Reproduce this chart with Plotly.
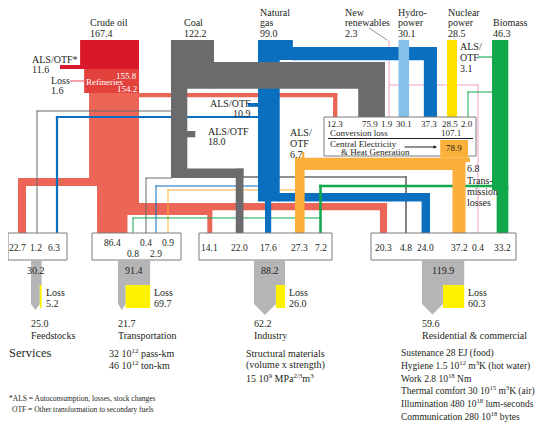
import plotly.graph_objects as go

# ---- data (EJ) ----
source_names = ["Crude oil", "Coal", "Natural<br>gas", "New<br>renewables", "Hydro-<br>power", "Nuclear<br>power", "Biomass"]
source_totals = [167.4, 122.2, 99.0, 2.3, 30.1, 28.5, 46.3]

oil_als = 11.6
refinery_in = 155.8
refinery_loss = 1.6
refinery_out = 154.2

# inputs to central electricity & heat generation: oil, coal, renew, hydro, gas, nuclear, biomass
ceg_inputs = [12.3, 75.9, 1.9, 30.1, 37.3, 28.5, 2.0]
conversion_loss = 107.1
ceg_output = 78.9
als_coal = 18.0
als_gas = 10.9
als_elec = 6.7
als_bio = 3.1
transmission_loss = 6.8

services_in = [22.7, 1.2, 6.3]                 # oil, coal, gas
transport_in = [86.4, 0.8, 0.4, 2.9, 0.9]      # oil, biomass, coal, gas, elec
industry_in = [14.1, 22.0, 17.6, 27.3, 7.2]    # oil, coal, gas, elec, biomass
residential_in = [20.3, 4.8, 24.0, 37.2, 0.4, 33.2]  # oil, coal, gas, elec, renew, biomass

sector_names = ["Feedstocks", "Transportation", "Industry", "Residential & commercial"]
sector_totals = [30.2, 91.4, 88.2, 119.9]
sector_losses = [5.2, 69.7, 26.0, 60.3]
sector_useful = [25.0, 21.7, 62.2, 59.6]

# ---- styles ----
CRUDE = "#d9192b"
REFIN = "#e2413c"
OIL = "#eb6657"
LOSSRED = "#e04a5e"
COAL = "#6b6b6d"
GAS = "#0b6fc0"
HYDRO = "#86c0ea"
NUC = "#ffe100"
BIO = "#10a84b"
PINK = "#f4a0c8"
ELEC = "#fbb03b"
SECT = "#b5b5b7"
LOSSY = "#fff200"
BOXLINE = "#7a7a7a"
TXT = "#231f20"
FONT = "Liberation Serif"

K = 0.352  # px per EJ
PAGE_PAD = 8  # default body margin of the html page


def w(v):
    return max(v * K, 1.0)


shapes = []
notes = []


def rect(x0, y0, x1, y1, color):
    shapes.append(dict(type="rect", xref="x", yref="y", x0=x0, y0=y0, x1=x1, y1=y1,
                       fillcolor=color, line=dict(width=0), layer="above"))


def box(x0, y0, x1, y1):
    shapes.append(dict(type="rect", xref="x", yref="y", x0=x0, y0=y0, x1=x1, y1=y1,
                       fillcolor="white", line=dict(width=1, color=BOXLINE), layer="above"))


def flow(pts, v, color):
    # orthogonal flow along a centre line, width from value
    h = w(v) / 2
    n = len(pts)
    for i in range(n - 1):
        (xa, ya), (xb, yb) = pts[i], pts[i + 1]
        ea = h if i > 0 else 0
        eb = h if i < n - 2 else 0
        if ya == yb:
            x0, x1 = (xa - ea, xb + eb) if xb >= xa else (xb - eb, xa + ea)
            rect(x0, ya - h, x1, ya + h, color)
        else:
            y0, y1 = (ya - ea, yb + eb) if yb >= ya else (yb - eb, ya + ea)
            rect(xa - h, y0, xa + h, y1, color)


def text(x, y, s, size=10, anchor="left", color=TXT):
    notes.append(dict(x=x, y=y, xref="x", yref="y", text=s, showarrow=False,
                      xanchor=anchor, yanchor="middle", borderpad=0,
                      font=dict(family=FONT, size=size, color=color)))


TOP = 40
CEG_TOP = 117
SEC_TOP = 233

# ---- crude oil & refineries ----
oil_r = 139
rect(oil_r - w(source_totals[0]), TOP, oil_r, 69, CRUDE)
flow([(60, 67), (oil_r - w(source_totals[0]) + 1, 67)], oil_als, CRUDE)
rect(oil_r - w(refinery_in), 69, oil_r, 93, REFIN)
flow([(70, 81), (oil_r - w(refinery_in), 81)], refinery_loss, LOSSRED)

oil_ceg_y = 93 + w(ceg_inputs[0]) / 2
ceg_x = [335.2, 371.6, 389, 403.8, 430.4, 452, 468]
flow([(oil_r - 1, oil_ceg_y), (ceg_x[0], oil_ceg_y), (ceg_x[0], CEG_TOP)], ceg_inputs[0], OIL)
rest = refinery_out - ceg_inputs[0]
serv_y = 178
rect(oil_r - w(rest), 93, oil_r, serv_y + w(services_in[0]), OIL)
svc_x = [22, 37, 57]
flow([(oil_r - w(rest) + 1, serv_y + w(services_in[0]) / 2), (svc_x[0], serv_y + w(services_in[0]) / 2),
      (svc_x[0], SEC_TOP)], services_in[0], OIL)
rest2 = rest - services_in[0]
y2 = serv_y + w(services_in[0])
oil_l2 = oil_r - w(rest2)
band_y = 203
band_v = industry_in[0] + residential_in[0]
rect(oil_l2, y2, oil_r, band_y + w(band_v), OIL)
rect(oil_l2, y2, oil_l2 + w(transport_in[0]), SEC_TOP, OIL)
trn_x = [oil_l2 + w(transport_in[0]) / 2, 133, 146, 156, 168]
ind_x = [209.8, 239.6, 268.1, 299.8, 320.5]
res_x = [383.5, 406, 425.8, 459, 478, 502.5]
rect(oil_l2 + w(transport_in[0]), band_y, ind_x[0] + w(industry_in[0]) / 2, band_y + w(band_v), OIL)
rect(ind_x[0] - w(industry_in[0]) / 2, band_y, ind_x[0] + w(industry_in[0]) / 2, SEC_TOP, OIL)
flow([(ind_x[0], band_y + w(residential_in[0]) / 2), (res_x[0], band_y + w(residential_in[0]) / 2),
      (res_x[0], SEC_TOP)], residential_in[0], OIL)

# ---- thin lines ----
coal_l = 171
gas_l = 258
flow([(coal_l + 1, 111), (svc_x[1], 111), (svc_x[1], SEC_TOP)], services_in[1], COAL)
flow([(gas_l + 1, 117), (svc_x[2], 117), (svc_x[2], SEC_TOP)], services_in[2], GAS)
flow([(coal_l + 1, 178), (trn_x[2], 178), (trn_x[2], SEC_TOP)], transport_in[2], COAL)
flow([(gas_l + 1, 186), (trn_x[3], 186), (trn_x[3], SEC_TOP)], transport_in[3], GAS)
flow([(ind_x[3], 190), (trn_x[4], 190), (trn_x[4], SEC_TOP)], transport_in[4], ELEC)
flow([(ind_x[4], 218), (trn_x[1], 218), (trn_x[1], SEC_TOP)], transport_in[1], BIO)
flow([(ind_x[1], 177), (res_x[1], 177), (res_x[1], SEC_TOP)], residential_in[1], COAL)
flow([(ceg_x[2], TOP), (ceg_x[2], CEG_TOP)], ceg_inputs[2], PINK)
flow([(ceg_x[2], 85), (res_x[4], 85), (res_x[4], SEC_TOP)], residential_in[4], PINK)

# ---- natural gas ----
rect(gas_l, TOP, gas_l + w(source_totals[2]), 60, GAS)
gy = 47 + w(ceg_inputs[4]) / 2
flow([(gas_l + w(source_totals[2]) - 1, gy), (ceg_x[4], gy), (ceg_x[4], CEG_TOP)], ceg_inputs[4], GAS)
gas_rest = source_totals[2] - ceg_inputs[4]
res_gy = 193
rect(gas_l, 60, gas_l + w(gas_rest), res_gy + w(residential_in[2]), GAS)
rect(248, 103, gas_l, 103 + w(als_gas), GAS)
flow([(gas_l + w(gas_rest) - 1, res_gy + w(residential_in[2]) / 2), (res_x[2], res_gy + w(residential_in[2]) / 2),
      (res_x[2], SEC_TOP)], residential_in[2], GAS)
rect(ind_x[2] - w(industry_in[2]) / 2, res_gy, ind_x[2] + w(industry_in[2]) / 2, SEC_TOP, GAS)

# ---- coal ----
coal_r = coal_l + w(source_totals[1])
cy = 62 + w(ceg_inputs[1]) / 2
rect(coal_l, TOP, coal_r, 62 + w(ceg_inputs[1]), COAL)
flow([(coal_r - 1, cy), (ceg_x[1], cy), (ceg_x[1], CEG_TOP)], ceg_inputs[1], COAL)
coal_rest = source_totals[1] - ceg_inputs[1]
rect(coal_l, 88, coal_l + w(coal_rest), 178, COAL)
rect(coal_l + w(coal_rest) - 1, 131, coal_l + w(coal_rest) + 8, 131 + w(als_coal), COAL)
cb = industry_in[1] + residential_in[1]
rect(coal_l, 178 - w(cb), ind_x[1] + w(industry_in[1]) / 2, 178, COAL)
rect(ind_x[1] - w(industry_in[1]) / 2, 178 - w(cb), ind_x[1] + w(industry_in[1]) / 2, SEC_TOP, COAL)

# ---- hydro & nuclear ----
rect(ceg_x[3] - w(ceg_inputs[3]) / 2, TOP, ceg_x[3] + w(ceg_inputs[3]) / 2, CEG_TOP, HYDRO)
rect(ceg_x[5] - w(ceg_inputs[5]) / 2, TOP, ceg_x[5] + w(ceg_inputs[5]) / 2, CEG_TOP, NUC)
shapes.append(dict(type="line", xref="x", yref="y", x0=369, y0=28, x1=387, y1=40,
                   line=dict(color="#777777", width=0.8), layer="above"))

# ---- biomass ----
bio_l = 492
bio_r = bio_l + w(source_totals[6])
rect(bio_l, TOP, bio_r, 190, BIO)
rect(res_x[5] - w(residential_in[5]) / 2, 186, res_x[5] + w(residential_in[5]) / 2, SEC_TOP, BIO)
flow([(478, 57), (bio_l + 1, 57)], als_bio, BIO)
flow([(bio_l + 1, 92), (ceg_x[6], 92), (ceg_x[6], CEG_TOP)], ceg_inputs[6], BIO)
flow([(bio_l + 1, 186), (ind_x[4], 186), (ind_x[4], SEC_TOP)], industry_in[4], BIO)

# ---- central electricity & heat generation ----
box(324, CEG_TOP, 476, 156)
shapes.append(dict(type="line", xref="x", yref="y", x0=328, y0=138.5, x1=473, y1=138.5,
                   line=dict(color=TXT, width=1), layer="above"))
ceg_r = 468
rect(ceg_r - w(ceg_output), 140, ceg_r, 157.7, ELEC)
e_left = industry_in[3] + als_elec + transport_in[4]
rect(ind_x[3] - w(industry_in[3]) / 2, 157.7, res_x[3] - w(residential_in[3]) / 2 + 1, 157.7 + w(e_left), ELEC)
rect(res_x[3] - w(residential_in[3]) / 2, 157.7, res_x[3] + w(residential_in[3]) / 2, SEC_TOP, ELEC)
rect(res_x[3] + w(residential_in[3]) / 2 - 1, 157.7, 470, 157.7 + w(transmission_loss) + 2, ELEC)
rect(ind_x[3] - w(industry_in[3]) / 2, 157.7, ind_x[3] + w(industry_in[3]) / 2, SEC_TOP, ELEC)
rect(302, 152, 302 + w(als_elec), 158, ELEC)

# ---- sector boxes ----
sector_boxes = [(8, 67), (92, 181), (199, 332), (371, 516)]
for x0, x1 in sector_boxes:
    box(x0, SEC_TOP, x1, 260)

# ---- sector arrows ----
arrow_x = [31, 118, 254, 422]
for xl, tot, loss, use, name in zip(arrow_x, sector_totals, sector_losses, sector_useful, sector_names):
    xr = xl + w(tot)
    xu = xl + w(use)
    ts = 304
    te = ts + max(6, 0.5 * w(use))
    path = (f"M {xl},260 L {xr},260 L {xr},285 L {xu},285 L {xu},{ts} "
            f"L {(xl + xu) / 2},{te} L {xl},{ts} Z")
    shapes.append(dict(type="path", xref="x", yref="y", path=path, fillcolor=SECT,
                       line=dict(width=0), layer="above"))
    ly0 = max(xu, xr - w(loss))
    rect(ly0, 285, ly0 + w(loss), 308, LOSSY)
    text((xl + xr) / 2, 270, f"{tot:.1f}", anchor="center")
    text(ly0 + w(loss) + 3, 292, "Loss")
    text(ly0 + w(loss) + 3, 303, f"{loss:.1f}")
    text(xl - 1, 323, f"{use:.1f}")
    text(xl - 1, 335, name)

# ---- labels ----
src_label_x = [89, 183, 259, 344, 397, 447, 492]
for x, name, v in zip(src_label_x, source_names, source_totals):
    lines = name.split("<br>")
    for i, ln in enumerate(lines):
        text(x, 33 - 10.5 * (len(lines) - i), ln)
    text(x, 33, f"{v:.1f}")

text(31, 59, "ALS/OTF*")
text(31, 69, f"{oil_als:.1f}")
text(50, 80, "Loss")
text(50, 90, f"{refinery_loss:.1f}")
text(138, 76, f"{refinery_in:.1f}", size=9, anchor="right", color="white")
text(85, 82, "Refineries", size=9, color="white")
text(138, 89, f"{refinery_out:.1f}", size=9, anchor="right", color="white")

text(209, 103, "ALS/OTF")
text(232, 113, f"{als_gas:.1f}")
text(207, 131, "ALS/OTF")
text(207, 141, f"{als_coal:.1f}")
text(289, 132, "ALS/")
text(289, 143, "OTF")
text(289, 154, f"{als_elec:.1f}")
text(459, 46, "ALS/")
text(459, 57, "OTF")
text(459, 68, f"{als_bio:.1f}")
text(466, 168, f"{transmission_loss:.1f}")
text(466, 180, "Trans-")
text(466, 191, "mission")
text(466, 202, "losses")

ceg_label_x = [335, 370, 387, 404, 429, 450, 467]
for x, v in zip(ceg_label_x, ceg_inputs):
    text(x, 124, f"{v:.1f}", size=9, anchor="center")
text(329, 133, "Conversion loss", size=9)
text(440, 133, f"{conversion_loss:.1f}", size=9)
text(329, 143.5, "Central Electricity", size=9)
text(340, 152, "& Heat Generation", size=9)
notes.append(dict(x=437, y=147, ax=403, ay=147, xref="x", yref="y", axref="x", ayref="y",
                  text="", showarrow=True, arrowhead=2, arrowsize=0.7, arrowwidth=1, arrowcolor=TXT))
text(ceg_r - w(ceg_output) / 2, 148, f"{ceg_output:.1f}", size=9, anchor="center")

svc_label_x = [17, 36, 54]
for x, v in zip(svc_label_x, services_in):
    text(x, 248, f"{v:.1f}", size=9.5, anchor="center")
trn_y = [243, 254, 243, 254, 243]
for x, y, v in zip(trn_x, trn_y, transport_in):
    text(x, y, f"{v:.1f}", size=9.5, anchor="center")
for x, v in zip(ind_x, industry_in):
    text(x, 248, f"{v:.1f}", size=9.5, anchor="center")
for x, v in zip(res_x, residential_in):
    text(x, 248, f"{v:.1f}", size=9.5, anchor="center")

text(8, 353, "Services", size=12.5)
text(108, 353, "32 10<sup>12</sup> pass-km", size=10)
text(108, 365, "46 10<sup>12</sup> ton-km", size=10)
text(245, 353, "Structural materials", size=10)
text(245, 365, "(volume x strength)", size=10)
text(245, 378, "15 10<sup>9</sup> MPa<sup>2/3</sup>m<sup>3</sup>", size=10)
services_out = ["Sustenance 28 EJ (food)",
                "Hygiene 1.5 10<sup>12</sup> m<sup>3</sup>K (hot water)",
                "Work 2.8 10<sup>18</sup> Nm",
                "Thermal comfort 30 10<sup>15</sup> m<sup>3</sup>K (air)",
                "Illumination 480 10<sup>18</sup> lum-seconds",
                "Communication 280 10<sup>18</sup> bytes"]
for i, s in enumerate(services_out):
    text(400, 353 + 12.6 * i, s, size=9.5)
text(8, 398, "*ALS = Autoconsumption, losses, stock changes", size=7.5)
text(11, 409, "OTF = Other transformation to secondary fuels", size=7.5)

# the page puts the figure 8 px in from the window corner, so the axes start at 8
fig = go.Figure()
fig.update_layout(width=550 - PAGE_PAD, height=425 - PAGE_PAD, margin=dict(l=0, r=0, t=0, b=0),
                  paper_bgcolor="white", plot_bgcolor="white",
                  xaxis=dict(range=[PAGE_PAD, 550], visible=False, fixedrange=True),
                  yaxis=dict(range=[425, PAGE_PAD], visible=False, fixedrange=True),
                  shapes=shapes, annotations=notes, showlegend=False)
fig.write_html("out.html")
